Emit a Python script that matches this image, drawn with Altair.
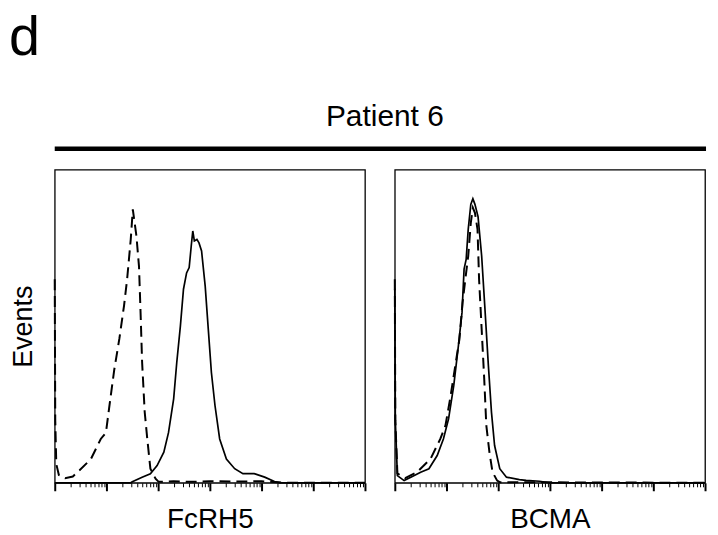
import altair as alt
import pandas as pd

FONT = "Liberation Sans"

panel_label = "d"
group_title = "Patient 6"
y_title = "Events"
marker_names = ["FcRH5", "BCMA"]

# x: fluorescence position in log10 decades (0..6), y: events as % of panel height
fcrh5_iso_log = [0, 0.01, 0.03, 0.08, 0.2, 0.35, 0.48, 0.70, 0.89, 0.99, 1.05, 1.15, 1.25, 1.34,
                 1.40, 1.47, 1.51, 1.58, 1.63, 1.66, 1.69, 1.74, 1.79, 1.85, 1.95, 2.01, 2.3, 2.6,
                 3.0, 3.5, 4.0, 4.3, 4.5, 6.0]
fcrh5_iso_events = [65, 20, 6, 2.5, 1.5, 2, 4, 7.6, 14, 16, 23.6, 36, 46, 56.5,
                    65, 77.7, 87.3, 78.8, 69, 54.4, 38.5, 22.6, 14, 4.5, 1.3, 0.3, 0.5, 0.3,
                    0.5, 0.4, 0.5, 0.2, 0, 0]

fcrh5_ab_log = [0, 1.47, 1.50, 1.69, 1.85, 1.98, 2.11, 2.20, 2.30, 2.36, 2.43, 2.49, 2.55, 2.60,
                2.64, 2.67, 2.70, 2.75, 2.79, 2.84, 2.91, 2.97, 3.03, 3.10, 3.19, 3.32, 3.48, 3.64,
                3.86, 4.06, 4.25, 4.37, 6.0]
fcrh5_ab_events = [0, 0, 0.3, 1.8, 2.9, 5.5, 9.8, 16, 26.8, 38.4, 50, 61.8, 67, 68.7,
                   75.6, 80.4, 77.2, 77.7, 76.6, 74, 62.8, 49, 35.2, 24.6, 14, 7.6, 4.5, 2.9,
                   2.9, 1.8, 0.4, 0, 0]

bcma_iso_log = [0, 0.01, 0.05, 0.2, 0.43, 0.69, 0.88, 0.98, 1.07, 1.17, 1.25, 1.31, 1.38, 1.42,
                1.47, 1.51, 1.55, 1.60, 1.63, 1.68, 1.73, 1.77, 1.83, 1.89, 1.98, 2.03, 6.0]
bcma_iso_events = [65, 20, 3, 1.5, 3.4, 7.6, 14, 18.3, 26.8, 37.4, 45.9, 57.5, 67.1, 72.4,
                   83, 87.8, 86.2, 80.9, 65, 49, 33, 18.3, 9.8, 3.4, 0.7, 0.2, 0]

bcma_ab_log = [0, 0.01, 0.05, 0.18, 0.31, 0.50, 0.66, 0.82, 0.94, 1.04, 1.14, 1.23, 1.30, 1.34,
               1.38, 1.42, 1.47, 1.51, 1.55, 1.61, 1.68, 1.74, 1.81, 1.87, 1.93, 2.03, 2.16, 2.41,
               2.54, 2.80, 2.99, 6.0]
bcma_ab_events = [62, 20, 2.3, 0.7, 1.8, 3.4, 4.5, 8.7, 14, 20.4, 31, 43.7, 54.4, 68.2,
                  71.3, 80.9, 88.9, 90.7, 88.9, 85, 72.4, 56.5, 37.4, 22.5, 11.9, 4.5, 1.8, 1.0,
                  0.8, 0.5, 0, 0]

tick_values = [k * 10 ** n for n in range(6) for k in range(1, 10)] + [10 ** 6]


def frame(logs, events):
    return pd.DataFrame({
        "fl": [10 ** v for v in logs],
        "events": events,
        "idx": list(range(len(logs))),
    })


MAJOR = "abs(log(datum.value)/LN10 - round(log(datum.value)/LN10)) < 0.001"

W, H = 312, 315
BOX = alt.ViewBackground(stroke="black", strokeWidth=1.3)


def panel(iso_df, ab_df, marker, show_y, extra_layers=()):
    x = alt.X(
        "fl:Q",
        scale=alt.Scale(type="log", domain=[1, 10 ** 6], nice=False),
        axis=alt.Axis(
            values=tick_values, labels=False, grid=False, domain=False,
            tickColor="black",
            tickSize={"condition": {"test": MAJOR, "value": 8}, "value": 4},
            tickWidth={"condition": {"test": MAJOR, "value": 2}, "value": 1},
            title=marker, titleFont=FONT, titleFontSize=28, titleFontWeight="normal",
            titleColor="black", titlePadding=14,
        ),
    )
    if show_y:
        y = alt.Y(
            "events:Q", scale=alt.Scale(domain=[0, 100], nice=False),
            axis=alt.Axis(
                labels=False, ticks=False, grid=False, domain=False,
                title=y_title, titleFont=FONT, titleFontSize=27, titleFontWeight="normal",
                titleColor="black", titlePadding=17,
            ),
        )
    else:
        y = alt.Y("events:Q", scale=alt.Scale(domain=[0, 100], nice=False), axis=None)
    iso = alt.Chart(iso_df).mark_line(color="black", strokeWidth=2, strokeDash=[11, 6]).encode(
        x=x, y=y, order="idx:Q")
    ab = alt.Chart(ab_df).mark_line(color="black", strokeWidth=1.7).encode(
        x=x, y=y, order="idx:Q")
    return alt.layer(iso, ab, *extra_layers).properties(width=W, height=H, view=BOX)


header_df = pd.DataFrame({"label": [panel_label], "title": [group_title]})
d_text = alt.Chart(header_df).mark_text(
    font=FONT, fontSize=56, align="left", baseline="top", color="black"
).encode(text="label:N", x=alt.value(-46), y=alt.value(-159))
title_text = alt.Chart(header_df).mark_text(
    font=FONT, fontSize=30, align="center", baseline="alphabetic", color="black"
).encode(text="title:N", x=alt.value(332), y=alt.value(-44))
rule = alt.Chart(header_df).mark_rule(color="black", strokeWidth=4.5).encode(
    x=alt.value(0), x2=alt.value(655), y=alt.value(-21))

left = panel(frame(fcrh5_iso_log, fcrh5_iso_events), frame(fcrh5_ab_log, fcrh5_ab_events),
             marker_names[0], True, (d_text, title_text, rule))
right = panel(frame(bcma_iso_log, bcma_iso_events), frame(bcma_ab_log, bcma_ab_events),
              marker_names[1], False)

chart = alt.hconcat(left, right, spacing=30, bounds="flush").properties(
    padding=0, background="white"
).configure_view(stroke="black", strokeWidth=1.3)

chart.save("out.html", embed_options={"renderer": "svg", "actions": False})
